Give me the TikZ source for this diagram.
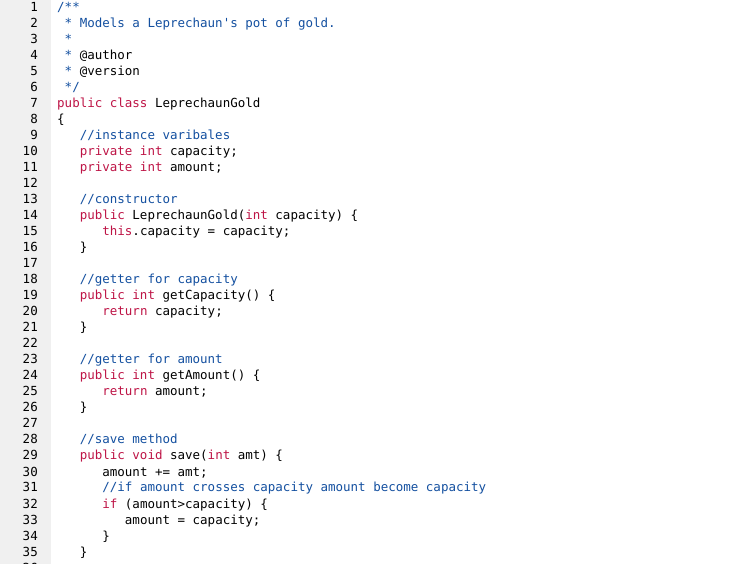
\documentclass[tikz,border=0pt]{standalone}
\usepackage{fontspec}
\setmonofont{DejaVu Sans Mono}
\definecolor{kwc}{RGB}{190,20,70}
\definecolor{cmc}{RGB}{20,80,160}
\definecolor{gut}{RGB}{240,240,240}
\newcommand{\kw}[1]{\textcolor{kwc}{#1}}
\newcommand{\cm}[1]{\textcolor{cmc}{#1}}
\tikzset{code/.style={anchor=base west,inner sep=0pt,font=\ttfamily\fontsize{12.5}{14}\selectfont},
num/.style={anchor=base east,inner sep=0pt,font=\ttfamily\fontsize{12.5}{14}\selectfont}}
\begin{document}
\begin{tikzpicture}[x=1pt,y=-1pt]
\useasboundingbox (0,0) rectangle (732,564);
\clip (0,0) rectangle (732,564);
\fill[white] (0,0) rectangle (732,564);
\fill[gut] (0,0) rectangle (51,564);
\foreach \n in {1,...,36}{\node[num] (n\n) at (38,{12+16*(\n-1)}) {\n};}
\def\c#1{(57+7.53*#1)}
\node[code] (l1) at ({57},12) {\cm{/**}};
\node[code] (l2) at ({57+7.53},28) {\cm{* Models a Leprechaun's pot of gold.}};
\node[code] (l3) at ({57+7.53},44) {\cm{*}};
\node[code] (l4) at ({57+7.53},60) {\cm{*} @author};
\node[code] (l5) at ({57+7.53},76) {\cm{*} @version};
\node[code] (l6) at ({57+7.53},92) {\cm{*/}};
\node[code] (l7) at (57,108) {\kw{public class} LeprechaunGold};
\node[code] (l8) at (57,124) {\{};
\node[code] (l9) at ({57+3*7.53},140) {\cm{//instance varibales}};
\node[code] (l10) at ({57+3*7.53},156) {\kw{private int} capacity;};
\node[code] (l11) at ({57+3*7.53},172) {\kw{private int} amount;};
\node[code] (l13) at ({57+3*7.53},204) {\cm{//constructor}};
\node[code] (l14) at ({57+3*7.53},220) {\kw{public} LeprechaunGold(\kw{int} capacity) \{};
\node[code] (l15) at ({57+6*7.53},236) {\kw{this}.capacity = capacity;};
\node[code] (l16) at ({57+3*7.53},252) {\}};
\node[code] (l18) at ({57+3*7.53},284) {\cm{//getter for capacity}};
\node[code] (l19) at ({57+3*7.53},300) {\kw{public int} getCapacity() \{};
\node[code] (l20) at ({57+6*7.53},316) {\kw{return} capacity;};
\node[code] (l21) at ({57+3*7.53},332) {\}};
\node[code] (l23) at ({57+3*7.53},364) {\cm{//getter for amount}};
\node[code] (l24) at ({57+3*7.53},380) {\kw{public int} getAmount() \{};
\node[code] (l25) at ({57+6*7.53},396) {\kw{return} amount;};
\node[code] (l26) at ({57+3*7.53},412) {\}};
\node[code] (l28) at ({57+3*7.53},444) {\cm{//save method}};
\node[code] (l29) at ({57+3*7.53},460) {\kw{public void} save(\kw{int} amt) \{};
\node[code] (l30) at ({57+6*7.53},476) {amount += amt;};
\node[code] (l31) at ({57+6*7.53},492) {\cm{//if amount crosses capacity amount become capacity}};
\node[code] (l32) at ({57+6*7.53},508) {\kw{if} (amount>capacity) \{};
\node[code] (l33) at ({57+9*7.53},524) {amount = capacity;};
\node[code] (l34) at ({57+6*7.53},540) {\}};
\node[code] (l35) at ({57+3*7.53},556) {\}};
\end{tikzpicture}
\end{document}
